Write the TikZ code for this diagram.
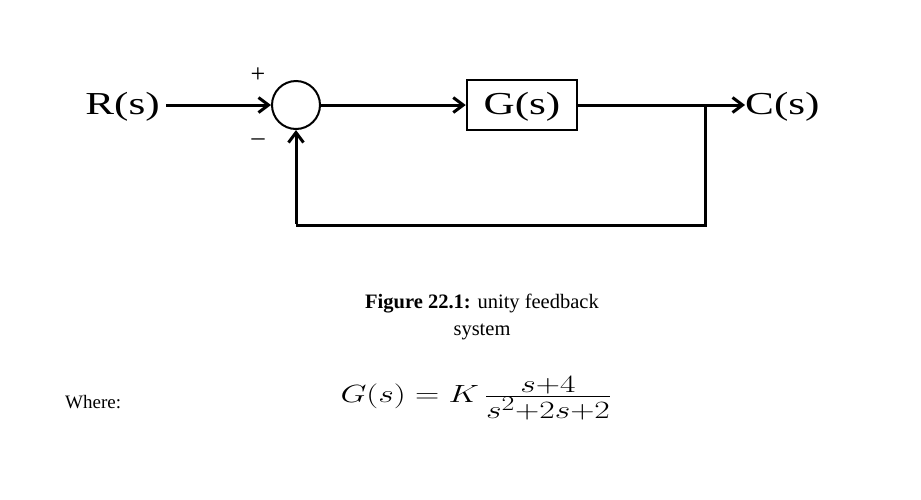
\documentclass[tikz,border=0pt]{standalone}
\usepackage{amsmath}
\usepackage{fontspec}
\setmainfont{Liberation Serif}
\newfontfamily\widefont[FakeStretch=1.35]{Liberation Serif}
\usetikzlibrary{arrows.meta}
\begin{document}
\begin{tikzpicture}[x=1pt,y=-1pt,
  lbl/.style={font=\widefont\fontsize{32}{34}\selectfont,inner sep=0pt},
  sig/.style={line width=3pt,-{Straight Barb[length=10pt,width=15pt,line width=3pt]}},
  ln/.style={line width=3pt}]
\useasboundingbox (0,0) rectangle (921,499);
\node[lbl,anchor=east] (R) at (160,107) {R(s)};
\node[circle,draw,line width=2pt,minimum size=48pt,inner sep=0pt] (S) at (296,105) {};
\node[draw,line width=2.5pt,minimum width=110pt,minimum height=50pt,inner sep=0pt] (G) at (522,105) {};
\node[lbl] (Gt) at (522,107) {G(s)};
\node[lbl,anchor=west] (C) at (745,107) {C(s)};
\coordinate (b) at (705,105);
\coordinate (d1) at (705,225);
\coordinate (d2) at (296,225);
\node[font=\fontsize{26}{26}\selectfont,inner sep=0pt] (p) at (258,75) {+};
\node[font=\fontsize{26}{26}\selectfont,inner sep=0pt] (m) at (258,142) {\textendash};
\draw[sig] (R.east |- S.west) ++(6,0) -- (S.west);
\draw[sig] (S.east) -- (G.west);
\draw[sig] (G.east) -- (G.east -| C.west);
\draw[ln] (b) -- (d1) -- (d2);
\draw[sig] ([yshift=1.5pt]d2) -- (S.south);
\node[font=\fontsize{20.5}{27}\selectfont,align=center] (cap) at (482,317) {\textbf{Figure 22.1:} unity feedback\\system};
\node[font=\fontsize{19}{22}\selectfont,anchor=west,inner sep=0pt] (w) at (65,402) {Where:};
\node[font=\fontsize{40}{42}\selectfont] (eq) at (476,398) {\scalebox{1.35}[1]{$G(s)=K\,\frac{s+4}{s^2+2s+2}$}};
\end{tikzpicture}
\end{document}
